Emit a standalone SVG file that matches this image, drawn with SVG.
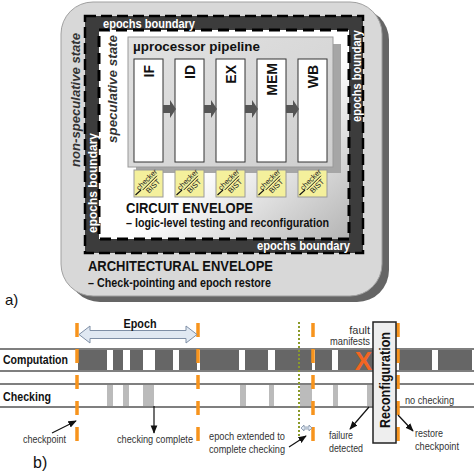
<svg xmlns="http://www.w3.org/2000/svg" width="474" height="474" viewBox="0 0 474 474">
<defs>
<linearGradient id="inner" x1="0" y1="0" x2="1" y2="1">
<stop offset="0" stop-color="#ffffff"/><stop offset="0.55" stop-color="#ffffff"/><stop offset="1" stop-color="#b4b4b4"/>
</linearGradient>
<linearGradient id="pipe" x1="0" y1="0" x2="1" y2="1">
<stop offset="0" stop-color="#e2e2e2"/><stop offset="1" stop-color="#cfcfcf"/>
</linearGradient>
<marker id="ah" viewBox="0 0 10 10" refX="9" refY="5" markerWidth="7" markerHeight="7" orient="auto">
<path d="M0,1 L10,5 L0,9 z" fill="#111"/>
</marker>
<g id="chk">
<rect x="0" y="0" width="29" height="27" fill="#f4f09c" stroke="#9a9a9a" stroke-width="1"/>
<g transform="translate(15.5,12.5) rotate(-45)">
<text x="0" y="-1.5" class="tiny">checker</text>
<line x1="-10" y1="0.5" x2="10" y2="0.5" stroke="#111" stroke-width="0.9"/>
<text x="0" y="7.5" class="tiny">BIST</text>
</g>
<line x1="1.5" y1="25" x2="7" y2="20" stroke="#111" stroke-width="1.1"/>
</g>
</defs>
<style>
text{font-family:"Liberation Sans",Arial,sans-serif;}
.b{font-weight:bold;}
.band{font-weight:bold;font-size:12px;fill:#ffffff;}
.state{font-weight:bold;font-style:italic;font-size:13px;fill:#333;}
.stage{font-weight:bold;font-size:14px;fill:#111;}
.tiny{font-size:7.5px;fill:#222;text-anchor:middle;}
.lbl{font-size:11px;fill:#333;}
.odash{stroke:#f7941d;stroke-width:3.5;stroke-dasharray:14 12;fill:none;}
.row{stroke:#555;stroke-width:1.3;}
.comp{fill:#666;}
.chkb{fill:#bbbbbb;}
.arr{stroke:#111;stroke-width:1.2;fill:none;marker-end:url(#ah);}
</style>

<g id="architectural-envelope">
<rect x="68" y="8" width="321" height="294" rx="32" fill="#656565"/>
<rect x="61" y="2" width="321" height="294" rx="32" fill="#d8d8d8" stroke="#a0a0a0" stroke-width="1"/>
<text class="state" transform="translate(80,100) rotate(-90)" text-anchor="middle" textLength="134" lengthAdjust="spacingAndGlyphs">non-speculative state</text>
<text class="b" x="88" y="271" font-size="14" fill="#111" textLength="185" lengthAdjust="spacingAndGlyphs">ARCHITECTURAL ENVELOPE</text>
<text class="b" x="88" y="287" font-size="12.5" fill="#111" textLength="183" lengthAdjust="spacingAndGlyphs">– Check-pointing and epoch restore</text>
</g>

<g id="epochs-boundary">
<rect x="85" y="16" width="278" height="237" fill="#3c3c3c" stroke="#000" stroke-width="2.5" stroke-dasharray="11 5"/>
<rect x="99" y="30" width="250" height="209" fill="url(#inner)" stroke="#000" stroke-width="3" stroke-dasharray="11 6"/>
<text class="band" x="103" y="28" textLength="92" lengthAdjust="spacingAndGlyphs">epochs boundary</text>
<text class="band" transform="translate(360.5,76) rotate(-90)" text-anchor="middle" textLength="92" lengthAdjust="spacingAndGlyphs">epochs boundary</text>
<text class="band" transform="translate(96.5,183) rotate(-90)" text-anchor="middle" textLength="100" lengthAdjust="spacingAndGlyphs">epochs boundary</text>
<text class="band" x="350" y="250" text-anchor="end" textLength="93" lengthAdjust="spacingAndGlyphs">epochs boundary</text>
</g>

<g id="circuit-envelope">
<text class="state" transform="translate(117,89) rotate(-90)" text-anchor="middle" textLength="108" lengthAdjust="spacingAndGlyphs">speculative state</text>
<text class="b" x="126" y="213" font-size="14" fill="#111" textLength="127" lengthAdjust="spacingAndGlyphs">CIRCUIT ENVELOPE</text>
<text class="b" x="126" y="227" font-size="12.5" fill="#111" textLength="203" lengthAdjust="spacingAndGlyphs">– logic-level testing and reconfiguration</text>
</g>

<g id="pipeline">
<rect x="136" y="44" width="205" height="129" fill="#a6a6a6"/>
<rect x="128" y="37" width="205" height="130" fill="url(#pipe)" stroke="#9a9a9a" stroke-width="1"/>
<text class="b" x="133" y="51" font-size="13.5" fill="#111" textLength="127" lengthAdjust="spacingAndGlyphs">µprocessor pipeline</text>
</g>

<g id="stage-IF">
<rect x="134" y="59" width="29" height="103" fill="#fff" stroke="#333" stroke-width="1"/>
<text class="stage" transform="translate(153.5,65) rotate(-90)" text-anchor="end">IF</text>
<use href="#chk" x="134" y="170"/>
</g>
<g id="stage-ID">
<rect x="175" y="59" width="29" height="103" fill="#fff" stroke="#333" stroke-width="1"/>
<text class="stage" transform="translate(194.5,65) rotate(-90)" text-anchor="end">ID</text>
<use href="#chk" x="175" y="170"/>
</g>
<g id="stage-EX">
<rect x="216" y="59" width="29" height="103" fill="#fff" stroke="#333" stroke-width="1"/>
<text class="stage" transform="translate(235.5,65) rotate(-90)" text-anchor="end">EX</text>
<use href="#chk" x="216" y="170"/>
</g>
<g id="stage-MEM">
<rect x="257" y="59" width="29" height="103" fill="#fff" stroke="#333" stroke-width="1"/>
<text class="stage" transform="translate(276.5,63) rotate(-90)" text-anchor="end">MEM</text>
<use href="#chk" x="257" y="170"/>
</g>
<g id="stage-WB">
<rect x="298" y="59" width="29" height="103" fill="#fff" stroke="#333" stroke-width="1"/>
<text class="stage" transform="translate(317.5,65) rotate(-90)" text-anchor="end">WB</text>
<use href="#chk" x="298" y="170"/>
</g>

<g id="pipeline-arrows" fill="#555">
<polygon points="163,105 170,105 170,100 176,109 170,118 170,113 163,113"/>
<polygon points="204,105 211,105 211,100 217,109 211,118 211,113 204,113"/>
<polygon points="245,105 252,105 252,100 258,109 252,118 252,113 245,113"/>
<polygon points="286,105 293,105 293,100 299,109 293,118 293,113 286,113"/>
</g>

<text x="5" y="305" font-size="15" fill="#111">a)</text>

<g id="rows">
<line class="row" x1="0" y1="349" x2="474" y2="349"/>
<line class="row" x1="0" y1="371" x2="474" y2="371"/>
<line class="row" x1="0" y1="384" x2="474" y2="384"/>
<line class="row" x1="0" y1="407" x2="474" y2="407"/>
<text class="b" x="3" y="364" font-size="13.5" fill="#111" textLength="65" lengthAdjust="spacingAndGlyphs">Computation</text>
<text class="b" x="3" y="401" font-size="13.5" fill="#111" textLength="48" lengthAdjust="spacingAndGlyphs">Checking</text>
</g>

<g id="computation-blocks">
<rect class="comp" x="78" y="350" width="29" height="20"/>
<rect class="comp" x="113" y="350" width="10" height="20"/>
<rect class="comp" x="130" y="350" width="13" height="20"/>
<rect class="comp" x="155" y="350" width="18" height="20"/>
<rect class="comp" x="179" y="350" width="18" height="20"/>
<rect class="comp" x="200" y="350" width="39" height="20"/>
<rect class="comp" x="245" y="350" width="23" height="20"/>
<rect class="comp" x="275" y="350" width="37" height="20"/>
<rect class="comp" x="315" y="350" width="17" height="20"/>
<rect class="comp" x="338" y="350" width="35" height="20"/>
<rect class="comp" x="399" y="350" width="33" height="20"/>
<rect class="comp" x="438" y="350" width="34" height="20"/>
</g>

<g id="checking-blocks">
<rect class="chkb" x="107" y="385" width="6" height="21"/>
<rect class="chkb" x="123" y="385" width="6" height="21"/>
<rect class="chkb" x="143" y="385" width="11" height="21"/>
<rect class="chkb" x="240" y="385" width="6" height="21"/>
<rect class="chkb" x="269" y="385" width="5" height="21"/>
<rect class="chkb" x="300" y="385" width="12" height="21"/>
<rect class="chkb" x="333" y="385" width="5" height="21"/>
<rect class="chkb" x="367" y="385" width="6" height="21"/>
</g>

<g id="checkpoint-lines">
<line class="odash" x1="77" y1="323" x2="77" y2="443"/>
<line class="odash" x1="198" y1="323" x2="198" y2="443"/>
<line class="odash" x1="313" y1="323" x2="313" y2="443"/>
<line x1="299" y1="322" x2="299" y2="437" stroke="#8a9a2a" stroke-width="2" stroke-dasharray="2 2"/>
</g>

<g id="epoch">
<polygon points="79,334.5 90,326 90,330.5 186,330.5 186,326 197,334.5 186,343 186,338.5 90,338.5 90,343" fill="#e0e8f2" stroke="#7f8fa6" stroke-width="1"/>
<text class="b" x="140" y="328" font-size="13.5" fill="#111" text-anchor="middle" textLength="33" lengthAdjust="spacingAndGlyphs">Epoch</text>
<polygon points="301,428 304,425 304,427 309,427 309,425 312,428 309,431 309,429 304,429 304,431" fill="#e0e8f2" stroke="#7f8fa6" stroke-width="0.8"/>
</g>

<g id="reconfiguration">
<line class="odash" x1="398" y1="323" x2="398" y2="443"/>
<rect x="373" y="322" width="23" height="121" fill="#eeeeee" stroke="#222" stroke-width="1.5"/>
<text class="b" transform="translate(390,380) rotate(-90)" font-size="14" fill="#111" text-anchor="middle" textLength="96" lengthAdjust="spacingAndGlyphs">Reconfiguration</text>
</g>

<g id="fault">
<text class="b" x="363.5" y="370" font-size="26" fill="#f26522" text-anchor="middle">X</text>
<text class="lbl" x="370" y="334" text-anchor="end">fault</text>
<text class="lbl" x="370" y="345" text-anchor="end" textLength="40" lengthAdjust="spacingAndGlyphs">manifests</text>
</g>

<g id="connectors">
<line class="arr" x1="52" y1="433" x2="76" y2="421"/>
<line class="arr" x1="154" y1="406" x2="154" y2="433"/>
<line class="arr" x1="289" y1="447" x2="306" y2="436"/>
<line class="arr" x1="369" y1="407" x2="350" y2="429"/>
<line class="arr" x1="398" y1="415" x2="413" y2="431"/>
</g>

<g id="labels-b">
<text class="lbl" x="23" y="443" textLength="43" lengthAdjust="spacingAndGlyphs">checkpoint</text>
<text class="lbl" x="117" y="443" textLength="76" lengthAdjust="spacingAndGlyphs">checking complete</text>
<text class="lbl" x="209" y="440" textLength="76" lengthAdjust="spacingAndGlyphs">epoch extended to</text>
<text class="lbl" x="209" y="453" textLength="76" lengthAdjust="spacingAndGlyphs">complete checking</text>
<text class="lbl" x="329" y="439" textLength="24" lengthAdjust="spacingAndGlyphs">failure</text>
<text class="lbl" x="329" y="452" textLength="34" lengthAdjust="spacingAndGlyphs">detected</text>
<text class="lbl" x="405" y="404" textLength="49" lengthAdjust="spacingAndGlyphs">no checking</text>
<text class="lbl" x="415" y="437" textLength="28" lengthAdjust="spacingAndGlyphs">restore</text>
<text class="lbl" x="415" y="450" textLength="44" lengthAdjust="spacingAndGlyphs">checkpoint</text>
</g>

<text x="33" y="468" font-size="16" fill="#111">b)</text>
</svg>
